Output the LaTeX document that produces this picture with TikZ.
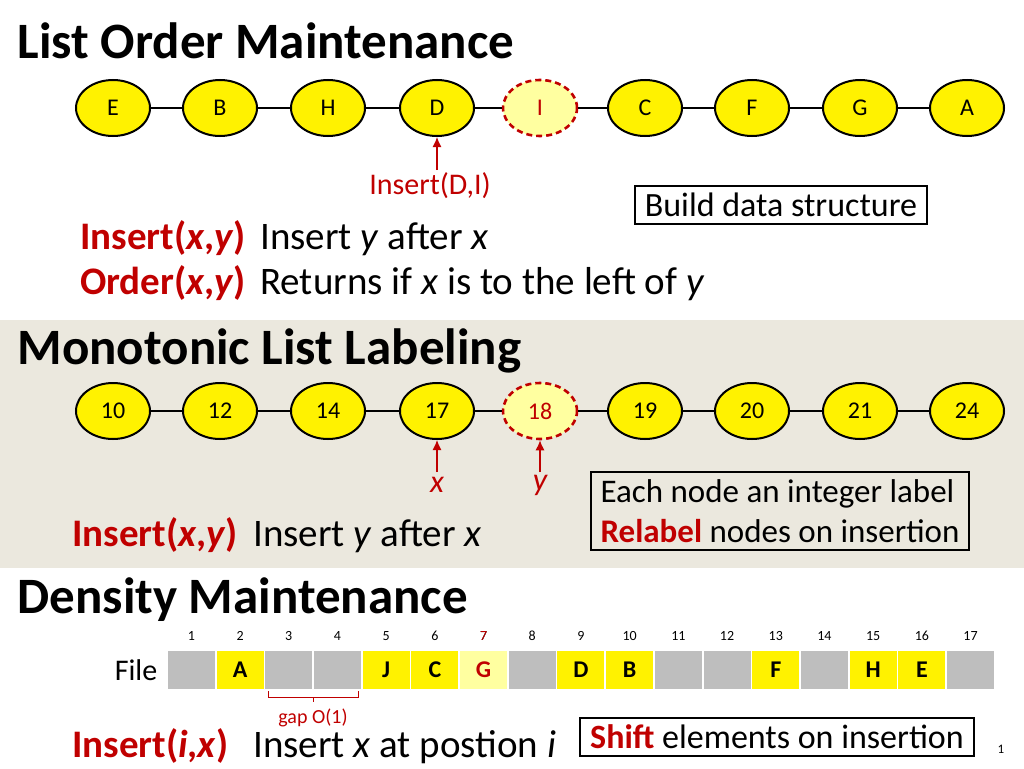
\documentclass[tikz,border=0pt]{standalone}
\usepackage{fontspec}
\setmainfont{Carlito}
\begin{document}
\begin{tikzpicture}[x=1pt,y=-1pt,
 el/.style={ellipse,draw,line width=2pt,fill=yellow,minimum width=74pt,minimum height=56pt,inner sep=0pt,font=\fontsize{24}{24}\selectfont},
 elnew/.style={el,dash pattern=on 6pt off 4pt,line width=2.6pt,draw=dred,fill=lyel,text=dred},
 ttl/.style={anchor=base west,font=\fontsize{51}{51}\selectfont\bfseries},
 txt/.style={anchor=base west,font=\fontsize{39}{39}\selectfont,inner sep=0pt},
 btx/.style={anchor=base west,inner sep=0pt,text=dred,font=\fontsize{39}{39}\selectfont\bfseries},
 box/.style={draw,line width=2pt,inner xsep=10pt,inner ysep=7pt,font=\fontsize{34}{34}\selectfont},
 arr/.style={draw=dred,line width=1.2pt,-{Latex[length=10pt,width=9pt]}},
 cell/.style={minimum width=47pt,minimum height=38pt,inner sep=0pt,font=\fontsize{24}{24}\selectfont\bfseries},
 num/.style={font=\fontsize{14}{14}\selectfont}]
\usetikzlibrary{shapes.geometric,arrows.meta}
\definecolor{dred}{RGB}{192,0,0}
\definecolor{lyel}{RGB}{255,255,160}
\definecolor{band}{RGB}{235,232,222}
\definecolor{gr}{RGB}{190,190,190}
\useasboundingbox (0,0) rectangle (1024,768);
\fill[band] (0,320) rectangle (1024,568);
% titles
\node[ttl] (t1) at (14,59) {List Order Maintenance};
\node[ttl] (t2) at (14,364) {Monotonic List Labeling};
\node[ttl] (t3) at (14,613) {Density Maintenance};
% chain 1
\foreach \n/\x/\s in {E/113/el,B/220/el,H/328/el,D/437/el,I/540/elnew,C/645/el,F/752/el,G/860/el,A/967/el}
 \node[\s] (a\n) at (\x,108) {\n};
\foreach \p/\q in {E/B,B/H,H/D,D/I,I/C,C/F,F/G,G/A}
 \draw[line width=2pt] (a\p) -- (a\q);
\node[font=\fontsize{30}{30}\selectfont,text=dred] (ins) at (430,186) {Insert(D,I)};
\draw[arr] (437,170) -- (aD.south);
\node[box] (b1) at (781,205) {Build data structure};
\node[btx] (i1) at (80,249) {Insert(\textit{x},\textit{y})};
\node[txt] (i1t) at (260,249) {Insert \textit{y} after \textit{x}};
\node[btx] (o1) at (80,294) {Order(\textit{x},\textit{y})};
\node[txt] (o1t) at (260,294) {Returns if \textit{x} is to the left of \textit{y}};
% chain 2
\foreach \n/\x/\s in {10/113/el,12/220/el,14/328/el,17/437/el,18/540/elnew,19/645/el,20/752/el,21/860/el,24/967/el}
 \node[\s] (n\n) at (\x,411) {\n};
\foreach \p/\q in {10/12,12/14,14/17,17/18,18/19,19/20,20/21,21/24}
 \draw[line width=2pt] (n\p) -- (n\q);
\node[font=\fontsize{32}{32}\selectfont\itshape,text=dred] (lx) at (437,485) {x};
\node[font=\fontsize{32}{32}\selectfont\itshape,text=dred] (ly) at (540,485) {y};
\draw[arr] (437,472) -- (n17.south);
\draw[arr] (540,472) -- (n18.south);
\node[box,align=left,font=\fontsize{33}{40}\selectfont] (b2) at (780,511) {Each node an integer label\\\textcolor{dred}{\bfseries Relabel} nodes on insertion};
\node[btx] (i2) at (72,546) {Insert(\textit{x},\textit{y})};
\node[txt] (i2t) at (253,546) {Insert \textit{y} after \textit{x}};
% file
\node[font=\fontsize{30}{30}\selectfont] (file) at (136,670) {File};
\foreach \i/\l/\c in {1//gr,2/A/yellow,3//gr,4//gr,5/J/yellow,6/C/yellow,7/G/lyel,8//gr,9/D/yellow,10/B/yellow,11//gr,12//gr,13/F/yellow,14//gr,15/H/yellow,16/E/yellow,17//gr}{
 \node[cell,fill=\c] (c\i) at ({167+24.35+(\i-1)*48.7},670) {\l};
 \node[num,anchor=base] (k\i) at ({167+24.35+(\i-1)*48.7},640) {\i};}
\node[cell,fill=lyel,text=dred] at (c7) {G};
\node[num,anchor=base,text=dred] at (k7.base) {7};
\draw[dred,line width=0.8pt] (268,691) -- (268,697) -- (358,697) -- (358,691) (313,697) -- (313,702);
\node[font=\fontsize{20}{20}\selectfont,text=dred] (gap) at (313,718) {gap O(1)};
\node[box] (b3) at (777,737) {\textcolor{dred}{\bfseries Shift} elements on insertion};
\node[btx] (i3) at (72,757) {Insert(\textit{i},\textit{x})};
\node[txt] (i3t) at (253,757) {Insert \textit{x} at postion \textit{i}};
\node[font=\fontsize{13}{13}\selectfont] (pg) at (1001,749) {1};
\end{tikzpicture}
\end{document}
